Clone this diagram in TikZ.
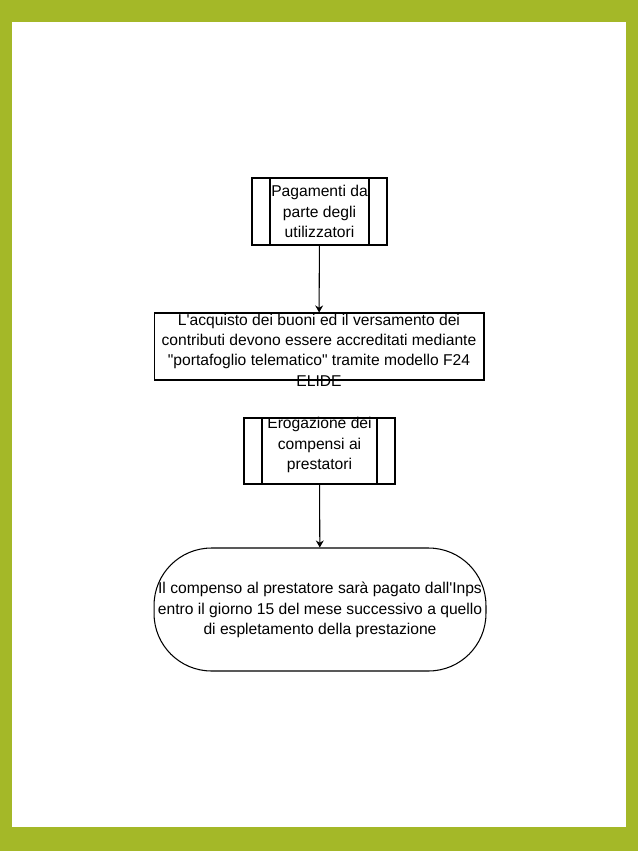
\documentclass[tikz,border=0pt]{standalone}
\usepackage{fontspec}
\setmainfont{Liberation Sans}[Ligatures=TeXOff]
\usepackage{tikz}
\usetikzlibrary{positioning,arrows.meta}
\definecolor{frame}{RGB}{164,184,40}
\tikzset{
  box/.style={draw,line width=0.6pt,minimum width=#1,minimum height=1.34cm,inner sep=0pt},
  predef/.style={box=#1,path picture={
    \draw[line width=0.6pt] ([xshift=0.36cm]path picture bounding box.north west) -- ([xshift=0.36cm]path picture bounding box.south west);
    \draw[line width=0.6pt] ([xshift=-0.36cm]path picture bounding box.north east) -- ([xshift=-0.36cm]path picture bounding box.south east);}},
  txt/.style={align=center,font=\fontsize{8.9}{11.6}\selectfont,inner sep=0pt}
}
\begin{document}
\begin{tikzpicture}[x=0.02cm,y=-0.02cm,>={Stealth[length=4pt,width=4.5pt]}]
  \fill[frame] (0,0) rectangle (638,851);
  \fill[white] (12,22) rectangle (626,827);
  \node[predef=2.7cm] (pag) at (319.5,211.5) {};
  \node[txt] at (pag.center) {Pagamenti da\\parte degli\\utilizzatori};
  \node[box=6.6cm] (acq) at (319,346.5) {};
  \node[txt] at (319,350) {L'acquisto dei buoni ed il versamento dei\\contributi devono essere accreditati mediante\\"portafoglio telematico" tramite modello F24\\ELIDE};
  \node[predef=3.02cm,minimum height=1.32cm] (ero) at (319.5,451) {};
  \node[txt] at (319.5,445) {Erogazione dei\\compensi ai\\prestatori};
  \node[box=6.64cm,minimum height=2.46cm,rounded corners=1.15cm] (comp) at (320,609.5) {};
  \node[txt] at (320,610) {Il compenso al prestatore sarà pagato dall'Inps\\entro il giorno 15 del mese successivo a quello\\di espletamento della prestazione};
  \draw[->,line width=0.6pt] (pag) -- (acq);
  \draw[->,line width=0.6pt] (ero) -- (comp);
\end{tikzpicture}
\end{document}
